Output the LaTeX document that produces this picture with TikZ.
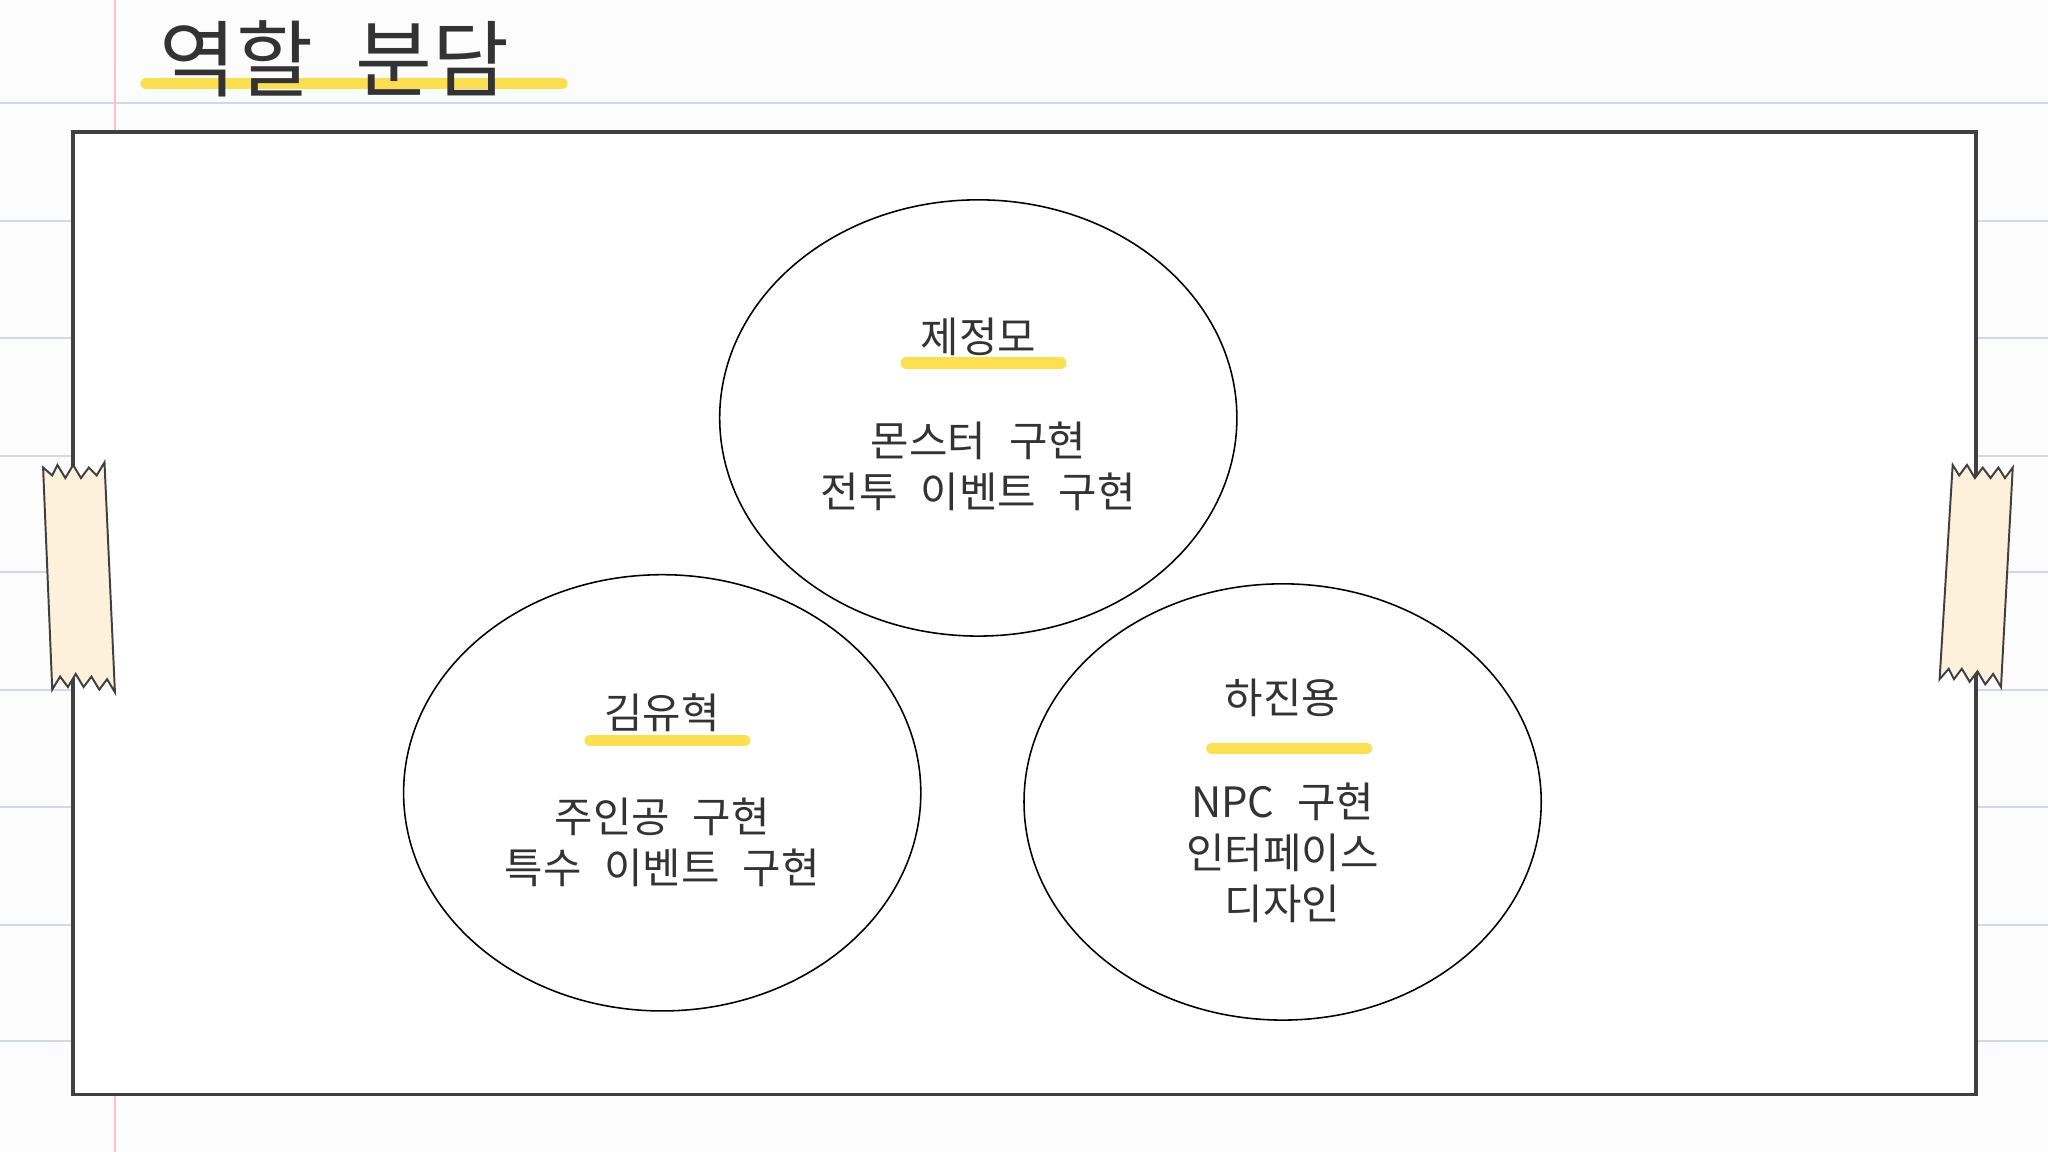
\documentclass[tikz,border=0pt]{standalone}
\usepackage{fontspec}
\usetikzlibrary{shapes.geometric}
\setmainfont{Noto Sans CJK KR}
\newcommand{\wsp}{\hspace{0.55em}}
\begin{document}
\begin{tikzpicture}[x=1pt,y=-1pt,
  nline/.style={draw=blue!30!gray!25,line width=1.5},
  hl/.style={draw=yellow!70!orange!80,line width=9,line cap=round,opacity=0.85},
  circ/.style={draw=black,line width=1.2,fill=white},
  txt/.style={font=\fontsize{32}{39}\selectfont,text=black!80,align=center},
  tape/.style={draw=black!75,line width=1.5,fill=yellow!20!orange!12}]
\fill[white!98!gray] (0,0) rectangle (1568,882);
\useasboundingbox (0,0) rectangle (1568,882);
\foreach \y in {79,169,259,349,438,528,618,708,797} \draw[nline] (0,\y) -- (1568,\y);
\draw[red!25,line width=1.5] (88,0) -- (88,882);
\draw[hl] (112,64) -- (430,64);
\node[font=\fontsize{64}{68}\selectfont,text=black!80,anchor=west,inner sep=0] (title) at (122,45) {역할\hspace{0.5em}분담};
\draw[black!75,line width=3,fill=white] (56,101) rectangle (1513,838);
% tapes
\draw[tape] (33,358) -- (40,364) -- (44,356) -- (50,366) -- (56,356) -- (62,366) -- (68,358) -- (74,364) -- (80,354)
  -- (88,530) -- (82,520) -- (76,528) -- (70,518) -- (64,526) -- (58,516) -- (52,526) -- (46,518) -- (40,528) -- cycle;
\draw[tape] (1495,356) -- (1500,364) -- (1506,356) -- (1512,366) -- (1518,358) -- (1524,366) -- (1530,358) -- (1535,366) -- (1541,358)
  -- (1532,526) -- (1526,516) -- (1520,524) -- (1514,514) -- (1508,522) -- (1502,512) -- (1496,520) -- (1492,512) -- (1485,520) -- cycle;
% ellipses
\node[circ,ellipse,minimum width=396,minimum height=334] (c1) at (749,320) {};
\node[circ,ellipse,minimum width=396,minimum height=334] (c2) at (507,607) {};
\node[circ,ellipse,minimum width=396,minimum height=334] (c3) at (982,614) {};
\draw[hl] (694,278) -- (812,278);
\draw[hl] (452,567) -- (570,567);
\draw[hl] (928,573) -- (1046,573);
\node[txt] (n1) at (749,258) {제정모};
\node[txt] (t1) at (749,357) {몬스터\wsp 구현\\전투\wsp 이벤트\wsp 구현};
\node[txt] (n2) at (507,546) {김유혁};
\node[txt] (t2) at (507,645) {주인공\wsp 구현\\특수\wsp 이벤트\wsp 구현};
\node[txt] (n3) at (982,534) {하진용};
\node[txt] (t3) at (982,653) {NPC\wsp 구현\\인터페이스\\디자인};
\end{tikzpicture}
\end{document}
